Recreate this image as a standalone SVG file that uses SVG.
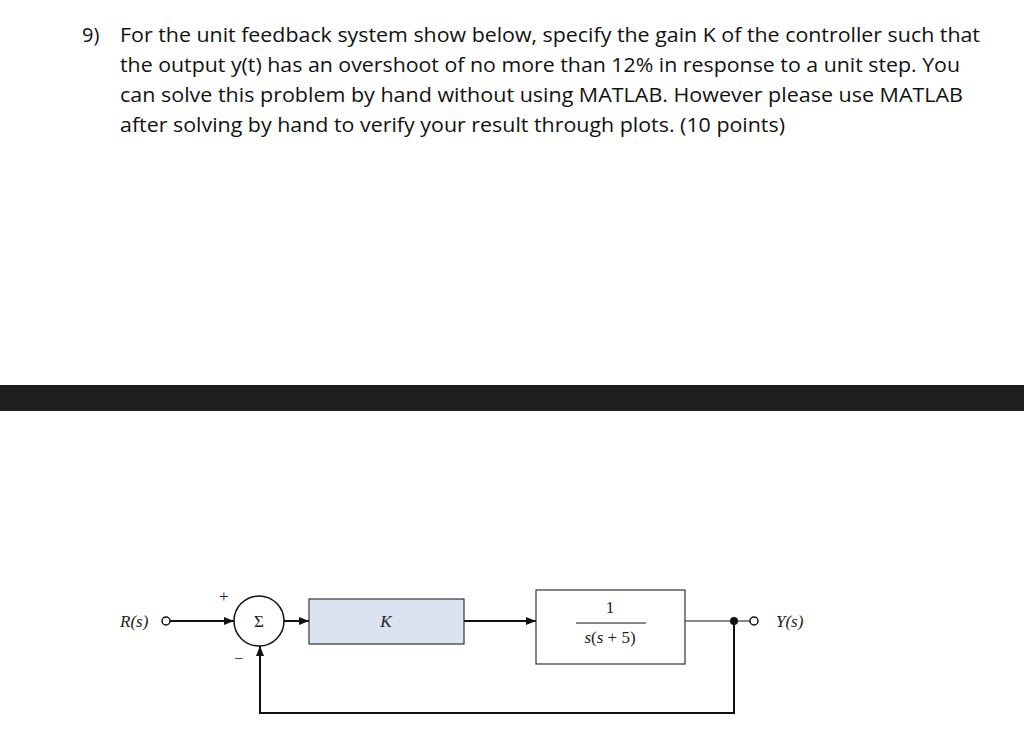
<svg xmlns="http://www.w3.org/2000/svg" width="1024" height="745" viewBox="0 0 1024 745">
<style>
.q{font-family:"Open Sans","Liberation Sans",sans-serif;font-size:20px;fill:#111}
.m{font-family:"Liberation Serif",serif;font-size:17px;fill:#222}
.ln{stroke:#111;stroke-width:2;fill:none}
</style>
<defs><marker id="a" markerWidth="10" markerHeight="8" refX="10" refY="4" orient="auto" markerUnits="userSpaceOnUse"><path d="M0,0 L10,4 L0,8z" fill="#111"/></marker></defs>
<rect width="1024" height="745" fill="#fff"/>
<g id="question">
<text class="q" x="82" y="42">9)</text>
<text class="q" x="120" y="42" textLength="860" lengthAdjust="spacingAndGlyphs">For the unit feedback system show below, specify the gain K of the controller such that</text>
<text class="q" x="120" y="72" textLength="840" lengthAdjust="spacingAndGlyphs">the output y(t) has an overshoot of no more than 12% in response to a unit step. You</text>
<text class="q" x="120" y="102" textLength="843" lengthAdjust="spacingAndGlyphs">can solve this problem by hand without using MATLAB.  However please use MATLAB</text>
<text class="q" x="120" y="132" textLength="665" lengthAdjust="spacingAndGlyphs">after solving by hand to verify your result through plots. (10 points)</text>
</g>
<rect x="0" y="385" width="1024" height="26" fill="#1e1e1e"/>
<g id="connectors">
<line class="ln" x1="170" y1="621" x2="234" y2="621" marker-end="url(#a)"/>
<line class="ln" x1="284" y1="621" x2="309" y2="621" marker-end="url(#a)"/>
<line class="ln" x1="464" y1="621" x2="536" y2="621" marker-end="url(#a)"/>
<line x1="685" y1="621" x2="750" y2="621" stroke="#111" stroke-width="1.2"/>
<polyline class="ln" points="734,621 734,713 260,713 260,646" marker-end="url(#a)"/>
<circle cx="734" cy="621" r="4" fill="#111"/>
</g>
<g id="R"><text class="m" x="120" y="627" font-style="italic">R(s)</text><circle cx="166" cy="621" r="4" fill="#fff" stroke="#111" stroke-width="1.5"/></g>
<g id="sum">
<circle cx="259" cy="621" r="25" fill="#fff" stroke="#111" stroke-width="1.5"/>
<text class="m" x="259" y="627" text-anchor="middle" font-size="15">Σ</text>
<text class="m" x="219" y="602" font-size="15">+</text>
<text class="m" x="234" y="664" font-size="15">−</text>
</g>
<g id="K"><rect x="309" y="599" width="155" height="45" fill="#dce3f0" stroke="#333" stroke-width="1.2"/><text class="m" x="386" y="627" text-anchor="middle" font-style="italic" font-size="18">K</text></g>
<g id="G"><rect x="536" y="590" width="149" height="74" fill="#fff" stroke="#333" stroke-width="1.2"/>
<text class="m" x="610" y="613" text-anchor="middle" font-size="19">1</text>
<line x1="576" y1="623" x2="646" y2="623" stroke="#111" stroke-width="1"/>
<text class="m" x="610" y="643" text-anchor="middle" font-size="19"><tspan font-style="italic">s</tspan>(<tspan font-style="italic">s</tspan> + 5)</text></g>
<g id="Y"><circle cx="754" cy="621" r="4" fill="#fff" stroke="#111" stroke-width="1.5"/><text class="m" x="776" y="627" font-style="italic">Y(s)</text></g>
</svg>
